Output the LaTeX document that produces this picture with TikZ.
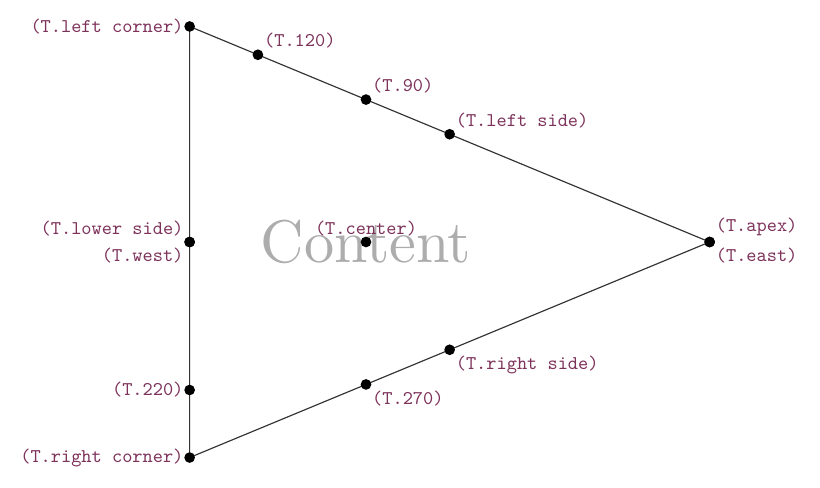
\documentclass[tikz,border=0pt]{standalone}
\usepackage{fontspec}
\usepackage{tikz}
\usetikzlibrary{shapes.geometric}
\newfontfamily\contentfont{lmroman10-regular.otf}
\definecolor{anchorlabel}{RGB}{125,50,90}

\begin{document}
\begin{tikzpicture}[x=0.515pt,y=-0.515pt,
    anchordot/.style={fill=black,circle,inner sep=0pt,minimum size=5.5pt},
    anchortext/.style={text=anchorlabel,font=\ttfamily\normalsize,inner sep=3pt}]
  \useasboundingbox (0,0) rectangle (820,487);
  \node (T) [draw=black!80,line width=0.6pt,shape=isosceles triangle,isosceles triangle stretches,
    outer sep=0pt,inner sep=0pt,minimum width=222pt,minimum height=267.8pt,
    text=black!32,font=\contentfont\fontsize{31}{31}\selectfont] at (366,242) {Content};
  \foreach \a/\p in {left corner/left,120/above right,90/above right,
      left side/above right,apex/above right,east/below right,
      right side/below right,270/below right,right corner/left,220/left,
      lower side/above left,west/below left,center/above}
    \node[anchordot] (d-\a) at (T.\a) {}
      node[anchortext,\p] at (d-\a) {(T.\a)};
\end{tikzpicture}
\end{document}
